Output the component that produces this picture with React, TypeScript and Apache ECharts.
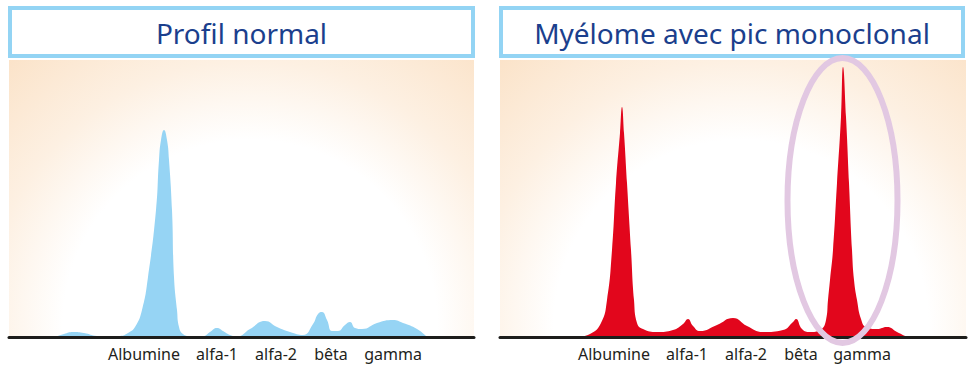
import React, { useEffect, useRef } from "react";
import * as echarts from "echarts";

// Electrophoresis fractions (axis labels)
const fractions = ["Albumine", "alfa-1", "alfa-2", "bêta", "gamma"];
const normalLabelPos = [135, 208, 267, 322, 384];
const myelomaLabelPos = [114, 187, 246, 301, 362];

const titles = ["Profil normal", "Myélome avec pic monoclonal"];

// Normal profile (migration position, intensity)
const normalX = [46, 55, 64, 75, 88, 100, 111, 119, 126, 133, 139, 147, 150, 152, 155, 158, 160, 163, 165, 168, 170, 174, 181, 194, 201, 208, 214, 221, 228, 241, 256, 268, 281, 294, 304, 309, 313, 318, 323, 329, 336, 341, 346, 353, 368, 384, 394, 408, 418];
const normalY = [0, 3, 5, 4, 1, 0.5, 1, 4, 10, 27, 60, 127, 177, 197, 207, 197, 177, 127, 60, 27, 10, 3, 1, 1, 5, 9, 6, 2, 0.5, 8, 16, 10, 5, 2, 13, 23, 25, 17, 6, 6, 12, 15, 9, 8, 14, 17, 14, 8, 0];

// Myeloma profile with monoclonal gamma spike
const myelomaX = [77, 90, 101, 107, 112, 116, 120, 122, 124, 127, 131, 134, 137, 143, 157, 173, 183, 188, 193, 200, 217, 233, 247, 263, 283, 293, 296, 302, 310, 320, 326, 328, 330, 333, 337, 341, 343, 346, 349, 352, 354, 357, 361, 366, 377, 387, 397, 407];
const myelomaY = [0, 3, 14, 37, 87, 154, 204, 230, 204, 154, 87, 37, 14, 8, 5, 7, 13, 18, 11, 6, 12, 19, 11, 5, 7, 15, 18, 8, 5, 7, 17, 37, 57, 87, 154, 220, 270, 220, 154, 87, 57, 37, 18, 10, 8, 10, 5, 0];

const pairs = (xs: number[], ys: number[]) => xs.map((x, i) => [x, ys[i]]);

const bg = (cx: number) => ({
  type: "radial",
  x: cx,
  y: 327,
  r: 360,
  global: true,
  colorStops: [
    { offset: 0, color: "#ffffff" },
    { offset: 0.52, color: "#ffffff" },
    { offset: 0.74, color: "#fdf0e2" },
    { offset: 1, color: "#fbe3c9" },
  ],
});

const labelStyle = {
  fontFamily: "Noto Sans",
  fontSize: 16,
  color: "#231f20",
  margin: 9,
};

export default function App() {
  const ref = useRef<HTMLDivElement>(null);
  useEffect(() => {
    document.body.style.margin = "0";
    const chart = echarts.init(ref.current!, null, { renderer: "svg" });
    const xAxisFor = (gridIndex: number, max: number, pos: number[]) => ({
      type: "value",
      gridIndex,
      min: 0,
      max,
      z: 10,
      axisLine: { show: true, lineStyle: { color: "#1d1d1b", width: 3 } },
      axisTick: { show: false },
      splitLine: { show: false },
      axisLabel: {
        ...labelStyle,
        customValues: pos,
        formatter: (v: number) => {
          const i = pos.indexOf(v);
          return i >= 0 ? fractions[i] : "";
        },
      },
    });
    const yAxisFor = (gridIndex: number) => ({
      type: "value",
      gridIndex,
      min: 0,
      max: 277,
      show: false,
    });
    const titleBox = (x: number, w: number, text: string) => ({
      type: "group",
      children: [
        {
          type: "rect",
          shape: { x, y: 8, width: w, height: 48 },
          style: { fill: "#ffffff", stroke: "#93d4f4", lineWidth: 4 },
        },
        {
          type: "text",
          x: x + w / 2,
          y: 32.5,
          style: {
            text,
            fill: "#1b3f8d",
            font: "28px 'Noto Sans'",
            align: "center",
            verticalAlign: "middle",
          },
        },
      ],
    });
    const areaSeries = (idx: number, data: number[][], color: string) => ({
      type: "line",
      xAxisIndex: idx,
      yAxisIndex: idx,
      data,
      smooth: 0.5,
      clip: true,
      showSymbol: false,
      lineStyle: { width: 0 },
      areaStyle: { color, opacity: 1 },
    });
    chart.setOption({
      animation: false,
      grid: [
        { left: 9, top: 60, width: 465, height: 277, show: true, borderWidth: 0, backgroundColor: bg(250) },
        { left: 500, top: 60, width: 466, height: 277, show: true, borderWidth: 0, backgroundColor: bg(741) },
      ],
      xAxis: [xAxisFor(0, 465, normalLabelPos), xAxisFor(1, 466, myelomaLabelPos)],
      yAxis: [yAxisFor(0), yAxisFor(1)],
      series: [
        areaSeries(0, pairs(normalX, normalY), "#96d4f4"),
        areaSeries(1, pairs(myelomaX, myelomaY), "#e2061c"),
      ],
      graphic: [
        titleBox(10, 463, titles[0]),
        titleBox(501, 462, titles[1]),
        {
          type: "ellipse",
          z: 100,
          shape: { cx: 842.5, cy: 200.5, rx: 55, ry: 142.5 },
          style: { fill: "none", stroke: "#e2c8e2", lineWidth: 6 },
        },
      ],
    });
    return () => chart.dispose();
  }, []);
  return <div ref={ref} style={{ width: 980, height: 375 }} />;
}
